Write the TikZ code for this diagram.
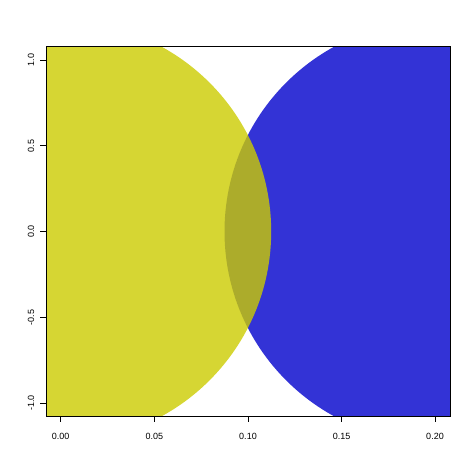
\documentclass[tikz,border=0pt]{standalone}
\usepackage{fontspec}
\setmainfont{Liberation Sans}
\definecolor{cyel}{rgb}{0.8,0.8,0}
\definecolor{cblu}{rgb}{0,0,0.8}
\tikzset{
  ticklab/.style={font=\fontsize{9}{10}\selectfont, inner sep=0pt},
  tickline/.style={line width=0.8pt, black},
  frameline/.style={line width=0.8pt, black}
}
\begin{document}
\begin{tikzpicture}[x=1pt,y=-1pt]
\useasboundingbox (0,0) rectangle (474,474);
\begin{scope}
  \clip (46,46) rectangle (450,416);
  \fill[cblu, fill opacity=0.8] (435,231.5) circle[radius=210.5pt];
  \fill[cyel, fill opacity=0.8] (60.7,231.5) circle[radius=210.5pt];
\end{scope}
\draw[frameline] (46,46) rectangle (450,416);
% x ticks
\foreach \xx/\lab/\nm in {60.7/0.00/xa,154.3/0.05/xb,248/0.10/xc,341.7/0.15/xd,435/0.20/xe}{
  \draw[tickline] (\xx,416) -- (\xx,422);
  \node[ticklab] (\nm) at (\xx,436) {\lab};
}
% y ticks
\foreach \yy/\lab/\nm in {60/1.0/ya,145.75/0.5/yb,231.5/0.0/yc,317.25/-0.5/yd,403/-1.0/ye}{
  \draw[tickline] (46,\yy) -- (40,\yy);
  \node[ticklab, rotate=90] (\nm) at (31,\yy) {\lab};
}
\end{tikzpicture}
\end{document}
